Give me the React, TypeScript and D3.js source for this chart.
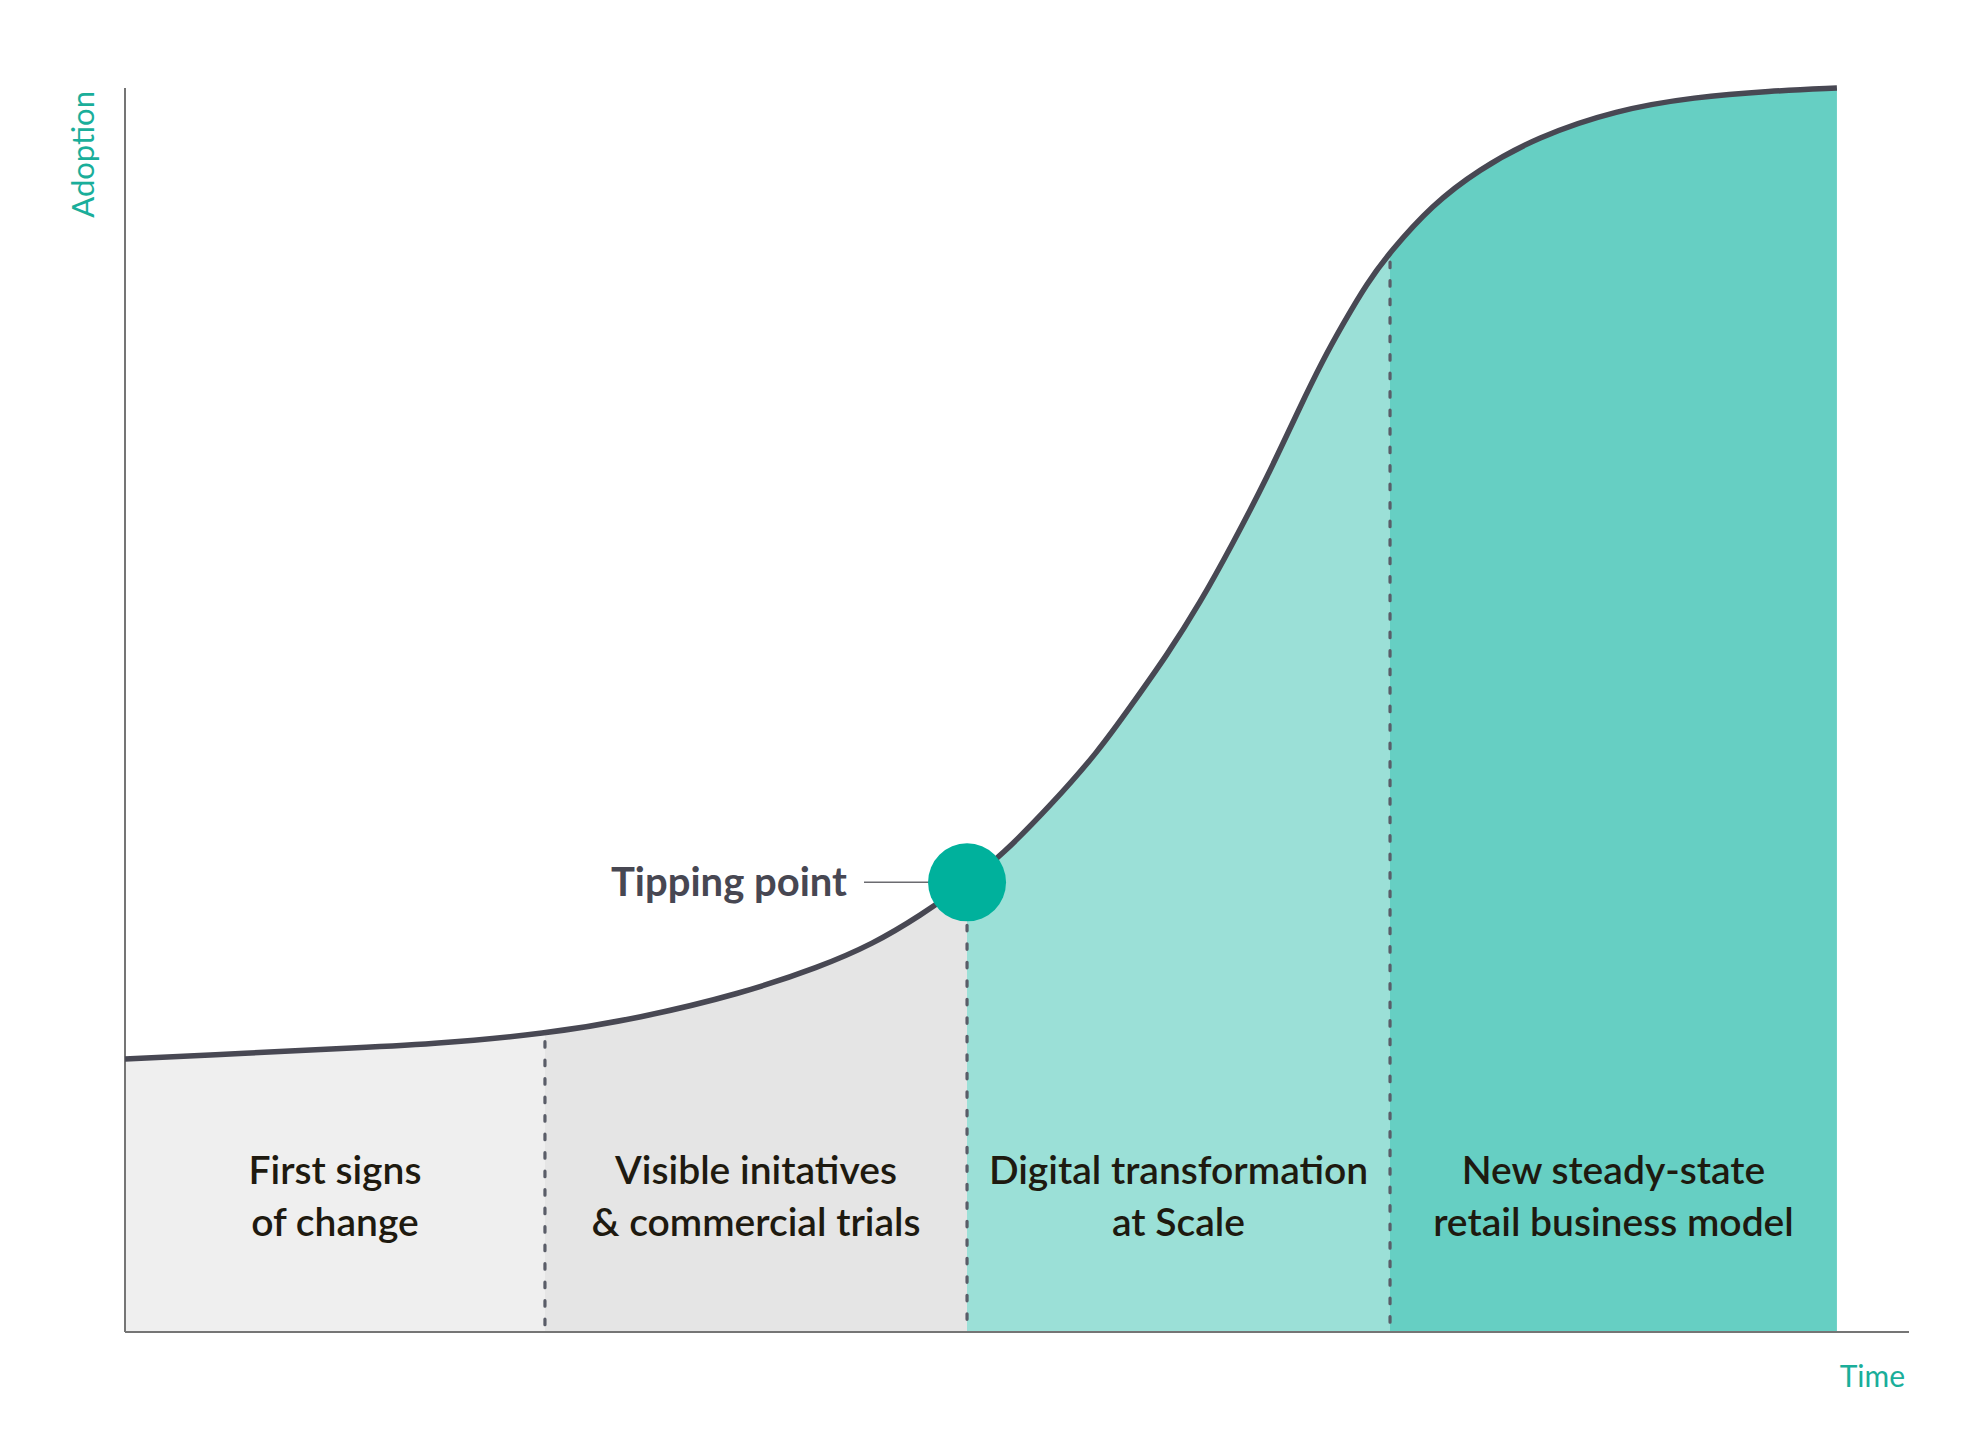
import React from "react";
import * as d3 from "d3";

// ---- Data ----
const timeValues = [0, 7.17, 11.66, 17.26, 23.54, 28.87, 34.47, 38.96, 41.93, 44.56, 47.2, 49.16, 51.85, 54.54, 56.5, 58.41, 60.26, 62.11, 64.01, 65.86, 67.15, 68.27, 69.62, 70.91, 73.26, 75.84, 79.15, 83.58, 88.0, 92.21, 95.96];
const adoptionValues = [21.95, 22.43, 22.75, 23.15, 23.95, 25.24, 27.17, 29.34, 31.19, 33.44, 36.09, 38.34, 42.28, 46.62, 50.56, 54.42, 58.6, 63.42, 68.65, 74.36, 78.14, 81.03, 84.32, 86.82, 90.59, 93.41, 96.06, 98.23, 99.28, 99.76, 100.0];

const phaseBreaks = [0, 23.54, 47.2, 70.91, 95.96];
const phaseLabels = [
  ["First signs", "of change"],
  ["Visible initatives", "& commercial trials"],
  ["Digital transformation", "at Scale"],
  ["New steady-state", "retail business model"],
];
const phaseColors = ["#efefef", "#e5e5e5", "#9be0d7", "#66cfc3"];
const tippingTime = 47.2;
const tippingLabel = "Tipping point";
const xAxisTitle = "Time";
const yAxisTitle = "Adoption";

// ---- Layout ----
const W = 1983;
const H = 1439;
const left = 125;
const right = 1909;
const top = 88;
const bottom = 1332;

export default function App() {
  const x = d3.scaleLinear().domain([0, 100]).range([left, right]);
  const y = d3.scaleLinear().domain([0, 100]).range([bottom, top]);

  const pts = timeValues.map((t, i) => [t, adoptionValues[i]] as [number, number]);
  const curve = d3.curveBasis;
  const line = d3.line<[number, number]>().x((d) => x(d[0])).y((d) => y(d[1])).curve(curve);
  const area = d3
    .area<[number, number]>()
    .x((d) => x(d[0]))
    .y0(y(0))
    .y1((d) => y(d[1]))
    .curve(curve);

  const linePath = line(pts) || "";
  const areaPath = area(pts) || "";

  const interpFallback = d3.scaleLinear().domain(timeValues).range(adoptionValues);

  // curve y (px) at a given time, by bisecting along the rendered path
  const curveY = (t: number) => {
    try {
      const p = document.createElementNS("http://www.w3.org/2000/svg", "path");
      p.setAttribute("d", linePath);
      const len = p.getTotalLength();
      if (!len) return y(interpFallback(t));
      const target = x(t);
      let lo = 0,
        hi = len;
      for (let k = 0; k < 40; k++) {
        const mid = (lo + hi) / 2;
        if (p.getPointAtLength(mid).x < target) lo = mid;
        else hi = mid;
      }
      return p.getPointAtLength((lo + hi) / 2).y;
    } catch (e) {
      return y(interpFallback(t));
    }
  };

  const circleR = 39;
  const tipX = x(tippingTime);
  const tipY = curveY(tippingTime);

  const textColor = "#1e1a10";
  const teal = "#1aae9a";
  const font = "Lato, 'Open Sans', sans-serif";

  return (
    <svg
      width={W}
      height={H}
      style={{ position: "absolute", left: 0, top: 0, background: "#fff" }}
      fontFamily={font}
    >
      <defs>
        {phaseBreaks.slice(0, -1).map((b, i) => (
          <clipPath id={`clip${i}`} key={i}>
            <rect x={x(b)} y={0} width={x(phaseBreaks[i + 1]) - x(b)} height={H} />
          </clipPath>
        ))}
      </defs>

      {/* phase fills */}
      {phaseColors.map((c, i) => (
        <path key={i} d={areaPath} fill={c} clipPath={`url(#clip${i})`} />
      ))}

      {/* dashed dividers */}
      {phaseBreaks.slice(1, -1).map((b, i) => {
        const cy = curveY(b);
        const y0 = b === tippingTime ? tipY + circleR + 4 : cy + 9;
        return (
          <line
            key={i}
            x1={x(b)}
            x2={x(b)}
            y1={y0}
            y2={bottom - 4}
            stroke="#5a5d68"
            strokeWidth={3.2}
            strokeDasharray="5.5 13"
            strokeLinecap="round"
          />
        );
      })}

      {/* axes */}
      <line x1={left} x2={left} y1={top} y2={bottom} stroke="#757575" strokeWidth={2} />
      <line x1={left} x2={right} y1={bottom} y2={bottom} stroke="#757575" strokeWidth={2} />

      {/* curve */}
      <path d={linePath} fill="none" stroke="#484853" strokeWidth={5.5} />

      {/* tipping point */}
      <line x1={864} x2={tipX} y1={tipY} y2={tipY} stroke="#6b6b70" strokeWidth={1.5} />
      <circle cx={tipX} cy={tipY} r={circleR} fill="#00b19c" />
      <text x={847} y={tipY + 14} textAnchor="end" fontSize={40} fontWeight={700} fill="#474752">
        {tippingLabel}
      </text>

      {/* phase labels */}
      {phaseLabels.map((lines, i) => {
        const cx = (x(phaseBreaks[i]) + x(phaseBreaks[i + 1])) / 2;
        return (
          <text key={i} textAnchor="middle" fontSize={39} fontWeight={600} fill={textColor}>
            {lines.map((l, j) => (
              <tspan key={j} x={cx} y={1184 + j * 52}>
                {l}
              </tspan>
            ))}
          </text>
        );
      })}

      {/* axis titles */}
      <text x={1905} y={1387} textAnchor="end" fontSize={30} fill={teal}>
        {xAxisTitle}
      </text>
      <text transform={`translate(94, 91) rotate(-90)`} textAnchor="end" fontSize={31} fill={teal}>
        {yAxisTitle}
      </text>
    </svg>
  );
}
